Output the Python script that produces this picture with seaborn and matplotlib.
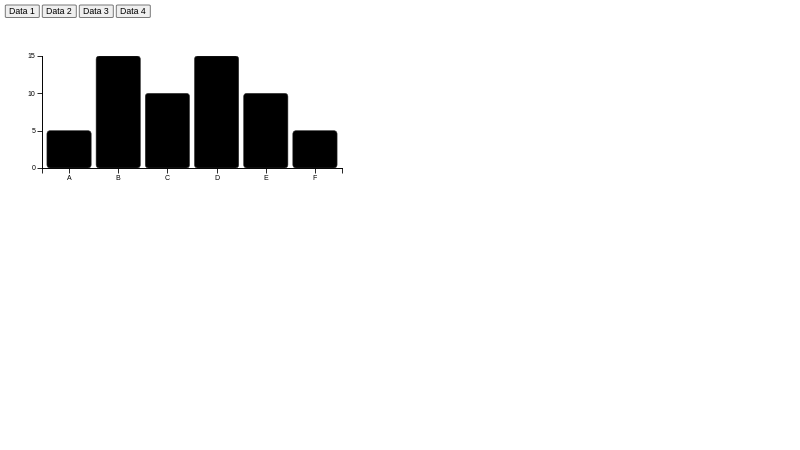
import matplotlib
matplotlib.use("Agg")
import matplotlib.pyplot as plt
import seaborn as sns
import pandas as pd
from matplotlib.patches import FancyBboxPatch, Rectangle

categories = ["A", "B", "C", "D", "E", "F"]
values = [5, 15, 10, 15, 10, 5]
y_ticks = [0, 5, 10, 15]
button_labels = ["Data 1", "Data 2", "Data 3", "Data 4"]

sns.set_theme(style="white")
plt.rcParams['font.family'] = ['Liberation Sans', 'DejaVu Sans']

W, H = 800, 450
fig = plt.figure(figsize=(8, 4.5), dpi=100)
fig.patch.set_facecolor("white")

# axes placement in pixels
ax_l, ax_r, ax_t, ax_b = 42, 342, 56, 168
ax = fig.add_axes([ax_l / W, 1 - ax_b / H, (ax_r - ax_l) / W, (ax_b - ax_t) / H])
ax.set_facecolor("white")

df = pd.DataFrame({"cat": categories, "val": values})
sns.barplot(data=df, x="cat", y="val", color="black", width=0.9, saturation=1, ax=ax)

ax.set_xlim(-0.55, 5.55)
ax.set_ylim(0, 15)

# replace rectangles with rounded boxes
px_per_x = (ax_r - ax_l) / 6.1
px_per_y = (ax_b - ax_t) / 15.0
aspect = px_per_x / px_per_y
rects = [p for p in ax.patches if isinstance(p, Rectangle)]
for p in rects:
    x0, y0 = p.get_x(), p.get_y()
    w, h = p.get_width(), p.get_height()
    p.remove()
    fb = FancyBboxPatch((x0, y0), w, h,
                        boxstyle="round,pad=0,rounding_size=0.07",
                        mutation_aspect=aspect,
                        facecolor="black", edgecolor="#333333", linewidth=0.4,
                        zorder=2)
    ax.add_patch(fb)

for s in ["top", "right"]:
    ax.spines[s].set_visible(False)
for s in ["left", "bottom"]:
    ax.spines[s].set_color("black")
    ax.spines[s].set_linewidth(0.7)

ax.set_yticks(y_ticks)
ax.set_yticklabels([str(v) for v in y_ticks])
ax.set_xlabel("")
ax.set_ylabel("")
ax.tick_params(axis="both", which="major", direction="out", length=3.5, width=0.6,
               color="black", labelsize=5.0, labelcolor="black", pad=1.3)
ax.tick_params(axis="x", bottom=True)
ax.tick_params(axis="y", left=True)
ax.set_xticks([-0.55, 5.55], minor=True)
ax.tick_params(axis="x", which="minor", direction="out", length=3.5, width=0.6,
               color="black", bottom=True)

# buttons
bx0, bw, bstep, by0, bh = 5.3, 34, 37, 5, 12.5
for i, lab in enumerate(button_labels):
    x = bx0 + i * bstep
    rect = FancyBboxPatch((x / W, 1 - (by0 + bh) / H), bw / W, bh / H,
                          boxstyle="round,pad=0,rounding_size=0.002",
                          transform=fig.transFigure, facecolor="#efefef",
                          edgecolor="#767676", linewidth=0.7)
    fig.add_artist(rect)
    fig.text((x + bw / 2) / W, 1 - (by0 + bh / 2 + 0.3) / H, lab,
             ha="center", va="center", fontsize=6.3, color="black")

fig.savefig("out.png", dpi=100, facecolor="white")
